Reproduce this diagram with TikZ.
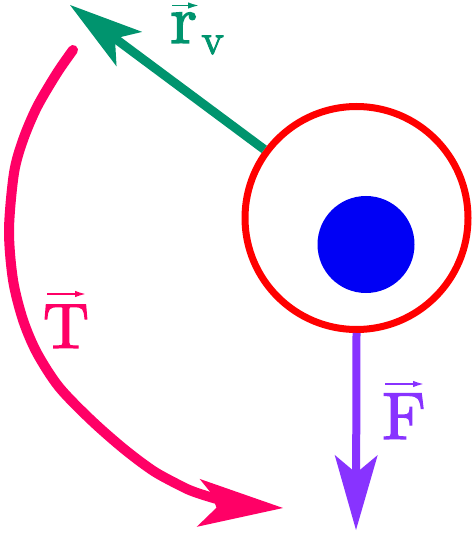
\documentclass[tikz,border=0pt]{standalone}
\usetikzlibrary{arrows.meta}
\font\Tfont="[lmroman10-regular]:embolden=2" at 64pt
\font\Ffont="[lmroman10-regular]:embolden=2" at 67pt
\font\Rfont="[lmroman10-regular]:embolden=2" at 69pt
\font\Vfont="[lmroman10-regular]:embolden=2" at 43pt
\definecolor{vgreen}{RGB}{0,148,110}
\definecolor{vpink}{RGB}{255,0,102}
\definecolor{vpurple}{RGB}{136,51,255}
\definecolor{vred}{RGB}{255,0,0}
\definecolor{vblue}{RGB}{0,0,245}
\begin{document}
\begin{tikzpicture}[x=1pt,y=-1pt,
  lbl/.style={inner sep=0pt},
  overarrow/.style={line width=1.6pt, -{Latex[length=11pt,width=6.5pt]}},
  gtip/.style={-{Stealth[length=74pt,width=43pt,inset=18pt,line width=0pt]}},
  ftipstyle/.style={-{Stealth[length=75pt,width=43pt,inset=18pt,line width=0pt]}},
  ttip/.style={-{Stealth[length=85pt,width=48pt,inset=22pt,line width=0pt]}}]
\useasboundingbox (0,0) rectangle (474,534);
\node[circle, draw=vred, line width=7pt, minimum size=223pt, inner sep=0pt] (ring) at (356.5,218) {};
\node[circle, fill=vblue, minimum size=97pt, inner sep=0pt] (core) at (366,244.5) {};
\coordinate (rtip) at (70,5);
\coordinate (ftip) at (356,530);
\draw[vgreen, line width=9pt, gtip] (ring) -- (rtip);
\draw[vpurple, line width=8pt, ftipstyle] (ring.south) -- (ftip);
\draw[vpink, line width=10pt, line cap=round, ttip]
  plot[smooth] coordinates {(73,50) (57,73) (37,107) (23,140) (14,173) (9,230) (13,280) (23,320) (37,353) (59,387) (91,420) (124,449) (155,472) (187,489)}
  .. controls (207,498) and (250,506) .. (283,508);
% labels
\node[lbl, text=vgreen, anchor=base west] (rv) at (170,43) {\Rfont r\kern4pt\raisebox{-11pt}{\Vfont v}};
\node[lbl, text=vpink, anchor=base] (tl) at (66,348) {\Tfont T};
\node[lbl, text=vpurple, anchor=base] (fl) at (404,439) {\Ffont F};
\coordinate (ra1) at (172,5.5);
\coordinate (ra2) at (199,5.5);
\coordinate (ta1) at (47,294);
\coordinate (ta2) at (86,294);
\coordinate (fa1) at (385,384);
\coordinate (fa2) at (424,384);
\draw[vgreen, overarrow] (ra1) -- (ra2);
\draw[vpink, overarrow] (ta1) -- (ta2);
\draw[vpurple, overarrow] (fa1) -- (fa2);
\end{tikzpicture}
\end{document}
